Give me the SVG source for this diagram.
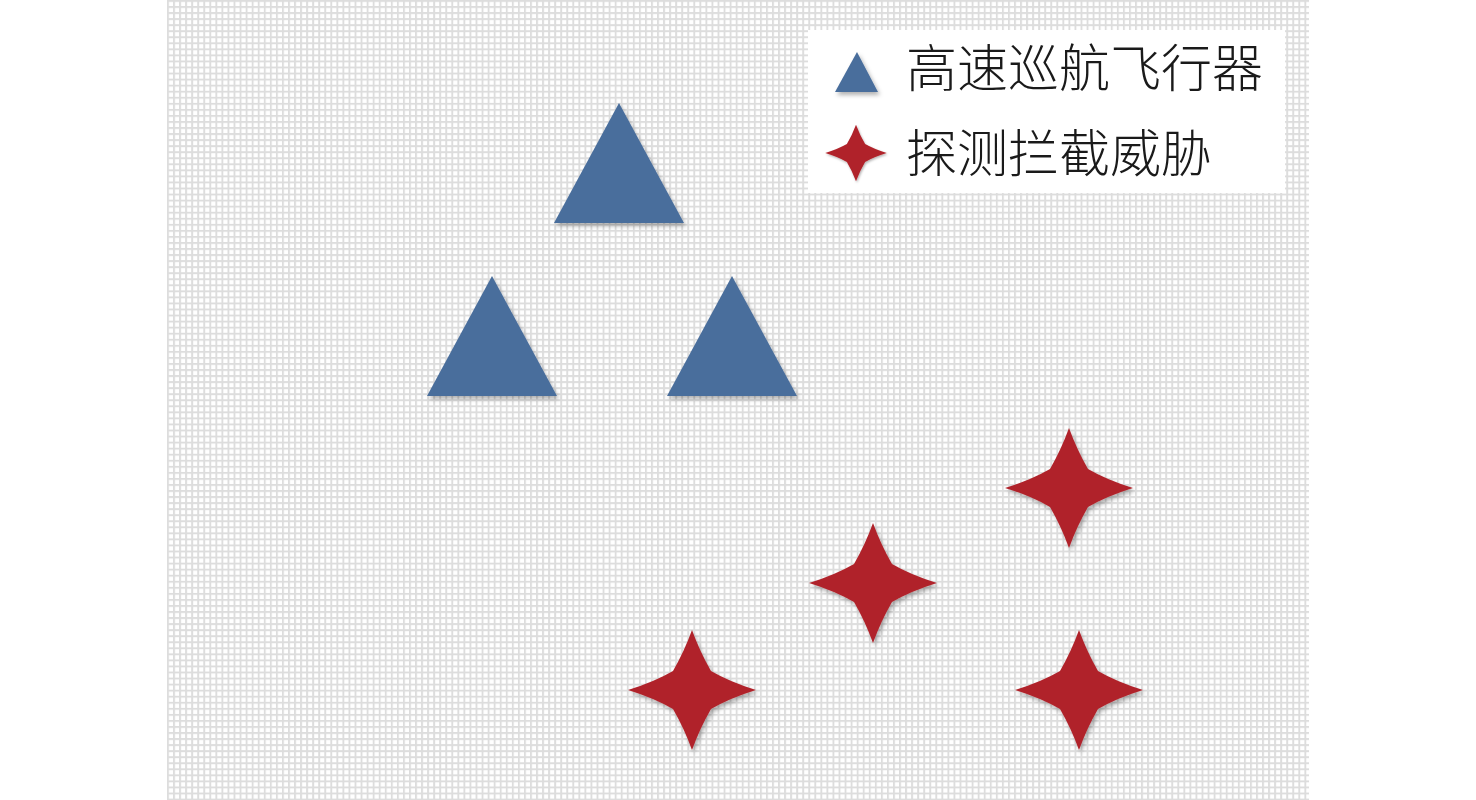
<svg xmlns="http://www.w3.org/2000/svg" xmlns:xlink="http://www.w3.org/1999/xlink" width="1476" height="800" viewBox="0 0 1476 800">
  <defs>
    <pattern id="grid" x="167" y="0" width="6.05" height="6.05" patternUnits="userSpaceOnUse">
      <rect x="0" y="0" width="6.05" height="6.05" fill="#ffffff"/>
      <rect x="0" y="0" width="1.9" height="6.05" fill="#dddddd"/>
      <rect x="0" y="0" width="6.05" height="1.9" fill="#dddddd"/>
    </pattern>
    <filter id="shadow" x="-20%" y="-20%" width="150%" height="150%">
      <feDropShadow dx="2" dy="3" stdDeviation="2" flood-color="#000" flood-opacity="0.3"/>
    </filter>
    <path id="star" d="M0,-60 Q8,-38 19,-19 Q38,-8 64,0 Q38,8 19,19 Q8,38 0,60 Q-8,38 -19,19 Q-38,8 -64,0 Q-38,-8 -19,-19 Q-8,-38 0,-60Z"/>
    <path id="tri" d="M0,0 L65,120 L-65,120Z"/>
  </defs>
  <style>
    .tri { fill: #4a6e9c; filter: url(#shadow); }
    .star { fill: #b0232a; filter: url(#shadow); }
    .lbl { font-family: "Noto Sans CJK SC", "Noto Sans CJK TC", serif; font-size: 51px; font-weight: 300; fill: #1a1a1a; }
  </style>
  <rect x="0" y="0" width="1476" height="800" fill="#ffffff"/>
  <rect id="background" x="167" y="0" width="1142" height="800" fill="url(#grid)"/>

  <g id="aircraft-1"><use xlink:href="#tri" class="tri" x="619" y="103"/></g>
  <g id="aircraft-2"><use xlink:href="#tri" class="tri" x="492" y="276"/></g>
  <g id="aircraft-3"><use xlink:href="#tri" class="tri" x="732" y="276"/></g>

  <g id="threat-1"><use xlink:href="#star" class="star" x="1069" y="488"/></g>
  <g id="threat-2"><use xlink:href="#star" class="star" x="873" y="583"/></g>
  <g id="threat-3"><use xlink:href="#star" class="star" x="692" y="690"/></g>
  <g id="threat-4"><use xlink:href="#star" class="star" x="1079" y="690"/></g>

  <g id="connectors"></g>

  <g id="legend">
    <rect x="808" y="30" width="477" height="163" fill="#ffffff"/>
    <path class="tri" d="M857,52 L878,92 L835,92Z"/>
    <path class="star" transform="translate(856,153) scale(0.48,0.47)" d="M0,-60 Q8,-38 19,-19 Q38,-8 64,0 Q38,8 19,19 Q8,38 0,60 Q-8,38 -19,19 Q-38,8 -64,0 Q-38,-8 -19,-19 Q-8,-38 0,-60Z"/>
    <text class="lbl" x="906" y="87">高速巡航飞行器</text>
    <text class="lbl" x="906" y="172">探测拦截威胁</text>
  </g>
</svg>
